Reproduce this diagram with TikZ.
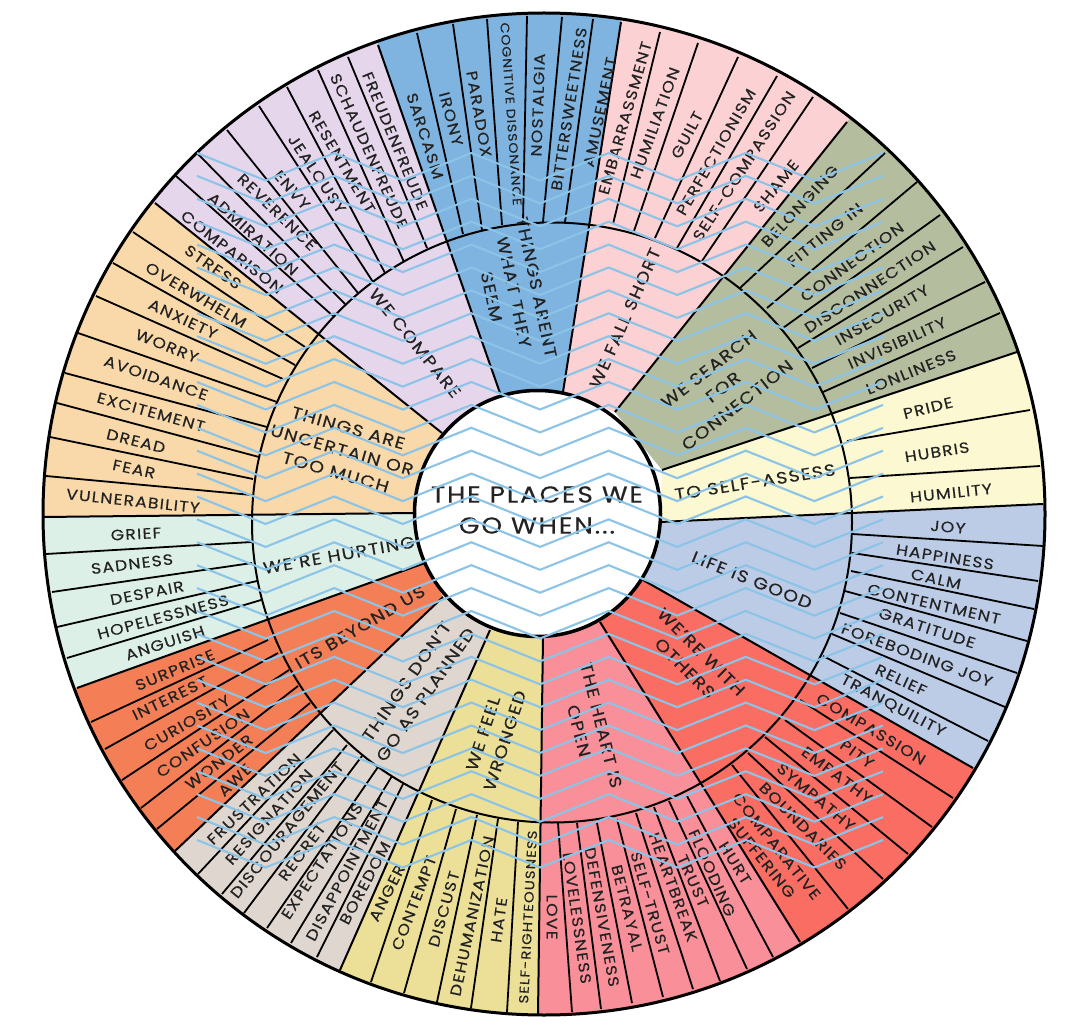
\documentclass[tikz,border=0pt]{standalone}
\usepackage{fontspec}
\setmainfont[FakeStretch=1.15,LetterSpace=8,FakeBold=0.3]{Poppins}
\usetikzlibrary{calc}

\definecolor{lilac}{HTML}{E6D6EC}
\definecolor{skyblue}{HTML}{7FB3E0}
\definecolor{blush}{HTML}{FBD1D4}
\definecolor{sage}{HTML}{B5BD9F}
\definecolor{cream}{HTML}{FBF8D2}
\definecolor{periwinkle}{HTML}{BCCCE6}
\definecolor{coral}{HTML}{F96D62}
\definecolor{rose}{HTML}{F98F98}
\definecolor{sand}{HTML}{ECDF98}
\definecolor{stone}{HTML}{DFD7CF}
\definecolor{tangerine}{HTML}{F47F56}
\definecolor{mint}{HTML}{DDF0E8}
\definecolor{peach}{HTML}{F9D8A9}
\definecolor{chevronblue}{HTML}{8CC4E8}
\definecolor{ink}{HTML}{232323}

\tikzset{
  spoke/.style={draw=black,line width=1.8pt},
  border/.style={draw=black,line width=2pt},
  word/.style={text=ink,inner sep=0pt,font=\fontsize{15}{15}\selectfont},
  place/.style={text=ink,inner sep=0pt,align=center,font=\fontsize{16.5}{23}\selectfont},
  chevron/.style={draw=chevronblue,line width=2.1pt}
}

\newcommand{\chevronrow}[1]{\draw[chevron] (197,#1) -- ++(68.6,27.5) -- ++(68.6,-27.5) -- ++(68.6,27.5) -- ++(68.6,-27.5) -- ++(68.6,27.5) -- ++(68.6,-27.5) -- ++(68.6,27.5) -- ++(68.6,-27.5) -- ++(68.6,27.5) -- ++(68.6,-27.5);}

\begin{document}
\begin{tikzpicture}[x=1pt,y=-1pt]
\useasboundingbox (0,0) rectangle (1080,1027);

\coordinate (b1i) at (500,393); \coordinate (b1o) at (378,45);
\coordinate (b2i) at (563,392); \coordinate (b2o) at (621,22);
\coordinate (b3i) at (615,412); \coordinate (b3o) at (847,122);
\coordinate (b4i) at (662,470); \coordinate (b4o) at (1017,352);
\coordinate (b5i) at (660,522); \coordinate (b5o) at (1043,504);
\coordinate (b6i) at (643,580); \coordinate (b6o) at (973,768);
\coordinate (b7i) at (600,622); \coordinate (b7o) at (800,942);
\coordinate (b8i) at (543,636); \coordinate (b8o) at (538,1015);
\coordinate (b9i) at (490,630); \coordinate (b9o) at (340,970);
\coordinate (b10i) at (443,597); \coordinate (b10o) at (175,851);
\coordinate (b11i) at (425,563); \coordinate (b11o) at (77,688);
\coordinate (b12i) at (415,513); \coordinate (b12o) at (43,517);
\coordinate (b13i) at (442,433); \coordinate (b13o) at (155,203);

% sectors
\begin{scope}
\clip (544,514) circle (501);
\fill[skyblue] (b1i) -- ($(b1i)!1.3!(b1o)$) -- ($(b2i)!1.3!(b2o)$) -- (b2i) -- cycle;
\fill[blush] (b2i) -- ($(b2i)!1.3!(b2o)$) -- ($(b3i)!1.3!(b3o)$) -- (b3i) -- cycle;
\fill[sage] (b3i) -- ($(b3i)!1.3!(b3o)$) -- ($(b4i)!1.3!(b4o)$) -- (b4i) -- cycle;
\fill[cream] (b4i) -- ($(b4i)!1.3!(b4o)$) -- ($(b5i)!1.3!(b5o)$) -- (b5i) -- cycle;
\fill[periwinkle] (b5i) -- ($(b5i)!1.3!(b5o)$) -- ($(b6i)!1.3!(b6o)$) -- (b6i) -- cycle;
\fill[coral] (b6i) -- ($(b6i)!1.3!(b6o)$) -- ($(b7i)!1.3!(b7o)$) -- (b7i) -- cycle;
\fill[rose] (b7i) -- ($(b7i)!1.3!(b7o)$) -- ($(b8i)!1.3!(b8o)$) -- (b8i) -- cycle;
\fill[sand] (b8i) -- ($(b8i)!1.3!(b8o)$) -- ($(b9i)!1.3!(b9o)$) -- (b9i) -- cycle;
\fill[stone] (b9i) -- ($(b9i)!1.3!(b9o)$) -- ($(b10i)!1.3!(b10o)$) -- (b10i) -- cycle;
\fill[tangerine] (b10i) -- ($(b10i)!1.3!(b10o)$) -- ($(b11i)!1.3!(b11o)$) -- (b11i) -- cycle;
\fill[mint] (b11i) -- ($(b11i)!1.3!(b11o)$) -- ($(b12i)!1.3!(b12o)$) -- (b12i) -- cycle;
\fill[peach] (b12i) -- ($(b12i)!1.3!(b12o)$) -- ($(b13i)!1.3!(b13o)$) -- (b13i) -- cycle;
\fill[lilac] (b13i) -- ($(b13i)!1.3!(b13o)$) -- ($(b1i)!1.3!(b1o)$) -- (b1i) -- cycle;
\end{scope}

% spokes of the outer ring
\draw[spoke] (417,33) -- (463,234);
\draw[spoke] (453,24) -- (482,230);
\draw[spoke] (487,19) -- (502,225);
\draw[spoke] (527,16) -- (523,222);
\draw[spoke] (562,17) -- (543,222);
\draw[spoke] (593,19) -- (565,222);
\draw[spoke] (660,32) -- (613,224);
\draw[spoke] (698,43) -- (634,231);
\draw[spoke] (738,57) -- (655,238);
\draw[spoke] (777,76) -- (677,248);
\draw[spoke] (813,97) -- (702,261);
\draw[spoke] (885,153) -- (740,288);
\draw[spoke] (917,182) -- (767,308);
\draw[spoke] (940,215) -- (783,328);
\draw[spoke] (963,247) -- (798,348);
\draw[spoke] (985,282) -- (812,368);
\draw[spoke] (1000,313) -- (823,392);
\draw[spoke] (1030,410) -- (847,441);
\draw[spoke] (1040,466) -- (850,478);
\draw[spoke] (1043,546) -- (852,534);
\draw[spoke] (1038,581) -- (852,553);
\draw[spoke] (1034,609) -- (851,571);
\draw[spoke] (1027,641) -- (845,591);
\draw[spoke] (1017,673) -- (840,613);
\draw[spoke] (1005,707) -- (832,634);
\draw[spoke] (988,741) -- (823,656);
\draw[spoke] (953,798) -- (800,700);
\draw[spoke] (932,827) -- (785,720);
\draw[spoke] (908,854) -- (765,737);
\draw[spoke] (883,879) -- (748,753);
\draw[spoke] (848,909) -- (732,765);
\draw[spoke] (773,957) -- (687,796);
\draw[spoke] (747,969) -- (669,801);
\draw[spoke] (720,981) -- (654,807);
\draw[spoke] (693,989) -- (636,813);
\draw[spoke] (663,997) -- (617,819);
\draw[spoke] (632,1003) -- (597,823);
\draw[spoke] (601,1009) -- (577,823);
\draw[spoke] (572,1012) -- (558,823);
\draw[spoke] (507,1012) -- (518,822);
\draw[spoke] (471,1008) -- (498,819);
\draw[spoke] (437,1002) -- (477,815);
\draw[spoke] (404,993) -- (456,809);
\draw[spoke] (371,982) -- (432,800);
\draw[spoke] (317,957) -- (403,784);
\draw[spoke] (291,943) -- (392,776);
\draw[spoke] (267,928) -- (378,767);
\draw[spoke] (244,913) -- (362,756);
\draw[spoke] (222,894) -- (347,745);
\draw[spoke] (198,874) -- (333,730);
\draw[spoke] (157,829) -- (310,703);
\draw[spoke] (141,808) -- (298,686);
\draw[spoke] (122,780) -- (289,670);
\draw[spoke] (105,749) -- (278,653);
\draw[spoke] (91,722) -- (268,640);
\draw[spoke] (67,658) -- (261,600);
\draw[spoke] (57,627) -- (257,581);
\draw[spoke] (52,592) -- (252,563);
\draw[spoke] (46,554) -- (252,542);
\draw[spoke] (46,476) -- (252,495);
\draw[spoke] (50,437) -- (253,479);
\draw[spoke] (57,403) -- (259,457);
\draw[spoke] (65,373) -- (267,427);
\draw[spoke] (78,333) -- (277,402);
\draw[spoke] (96,296) -- (283,379);
\draw[spoke] (113,263) -- (295,365);
\draw[spoke] (133,232) -- (305,347);
\draw[spoke] (176,176) -- (333,316);
\draw[spoke] (197,153) -- (345,304);
\draw[spoke] (227,130) -- (358,293);
\draw[spoke] (259,106) -- (373,282);
\draw[spoke] (287,87) -- (385,273);
\draw[spoke] (318,70) -- (404,262);
\draw[spoke] (348,57) -- (427,248);

% borders between the groups
\draw[border] (b1i) -- (b1o);
\draw[border] (b2i) -- (b2o);
\draw[border] (b3i) -- (b3o);
\draw[border] (b4i) -- (b4o);
\draw[border] (b5i) -- (b5o);
\draw[border] (b6i) -- (b6o);
\draw[border] (b7i) -- (b7o);
\draw[border] (b8i) -- (b8o);
\draw[border] (b9i) -- (b9o);
\draw[border] (b10i) -- (b10o);
\draw[border] (b11i) -- (b11o);
\draw[border] (b12i) -- (b12o);
\draw[border] (b13i) -- (b13o);

\draw[border] (552,522.5) circle (300);
\draw[draw=black,line width=3pt] (544,514) circle (501);
\draw[draw=black,fill=white,line width=3.5pt] (537.5,513.5) circle (123);

% the outer ring
\node[word,rotate=-72] (sarcasm) at (425,136) {SARCASM};
\node[word,rotate=-75] (irony) at (451,119) {IRONY};
\node[word,rotate=-80] (paradox) at (479,114) {PARADOX};
\node[word,rotate=-86,font=\fontsize{12.2}{12.2}\selectfont] (cognitive) at (511,114) {COGNITIVE DISSONANCE};
\node[word,rotate=88] (nostalgia) at (538,105) {NOSTALGIA};
\node[word,rotate=81] (bittersweetness) at (569,109) {BITTERSWEETNESS};
\node[word,rotate=78] (amusement) at (600,112) {AMUSEMENT};
\node[word,rotate=74] (embarrassment) at (625,118) {EMBARRASSMENT};
\node[word,rotate=70] (humiliation) at (655,123) {HUMILIATION};
\node[word,rotate=62] (guilt) at (687,135) {GUILT};
\node[word,rotate=60] (perfectionism) at (716,152) {PERFECTIONISM};
\node[word,rotate=57] (selfcompassion) at (744,166) {SELF-COMPASSION};
\node[word,rotate=51] (shame) at (776,186) {SHAME};
\node[word,rotate=47] (belonging) at (800,206) {BELONGING};
\node[word,rotate=39] (fittingin) at (825,235) {FITTING IN};
\node[word,rotate=36] (connection) at (852,262) {CONNECTION};
\node[word,rotate=33.5] (disconnection) at (870,287) {DISCONNECTION};
\node[word,rotate=30] (insecurity) at (882,315) {INSECURITY};
\node[word,rotate=24] (invisibility) at (897,343) {INVISIBILITY};
\node[word,rotate=22] (lonliness) at (911,372) {LONLINESS};
\node[word,rotate=14] (pride) at (928,408) {PRIDE};
\node[word,rotate=9] (hubris) at (937,452) {HUBRIS};
\node[word,rotate=6] (humility) at (951,493) {HUMILITY};
\node[word,rotate=-5] (joy) at (948,527) {JOY};
\node[word,rotate=-9] (happiness) at (945,557) {HAPPINESS};
\node[word,rotate=-12] (calm) at (936,579) {CALM};
\node[word,rotate=-13] (contentment) at (934,604) {CONTENTMENT};
\node[word,rotate=-18] (gratitude) at (927,628) {GRATITUDE};
\node[word,rotate=-20] (foreboding) at (917,655) {FOREBODING JOY};
\node[word,rotate=-25] (relief) at (901,680) {RELIEF};
\node[word,rotate=-28] (tranquility) at (893,706) {TRANQUILITY};
\node[word,rotate=-31] (compassion) at (871,729) {COMPASSION};
\node[word,rotate=-36] (pity) at (857,754) {PITY};
\node[word,rotate=-37] (empathy) at (837,775) {EMPATHY};
\node[word,rotate=-40] (sympathy) at (816,797) {SYMPATHY};
\node[word,rotate=-45] (boundaries) at (803,826) {BOUNDARIES};
\node[word,rotate=-51.5,align=center,font=\fontsize{15}{19}\selectfont] (comparative) at (769,852) {COMPARATIVE\\SUFFERING};
\node[word,rotate=-58] (hurt) at (735,863) {HURT};
\node[word,rotate=-66] (flooding) at (712,873) {FLOODING};
\node[word,rotate=-66] (trust) at (693,881) {TRUST};
\node[word,rotate=-70] (heartbreak) at (673,887) {HEARTBREAK};
\node[word,rotate=-74] (selftrust) at (650,903) {SELF-TRUST};
\node[word,rotate=-76] (betrayal) at (627,908) {BETRAYAL};
\node[word,rotate=-80] (defensiveness) at (602,917) {DEFENSIVENESS};
\node[word,rotate=-82] (lovelessness) at (577,918) {LOVELESSNESS};
\node[word,rotate=-90] (love) at (552,917) {LOVE};
\node[word,rotate=87,font=\fontsize{13}{13}\selectfont] (selfrighteousness) at (528,917) {SELF-RIGHTEOUSNESS};
\node[word,rotate=82] (hate) at (499,920) {HATE};
\node[word,rotate=78] (dehumanization) at (472,916) {DEHUMANIZATION};
\node[word,rotate=74] (discust) at (444,909) {DISCUST};
\node[word,rotate=69] (contempt) at (414,903) {CONTEMPT};
\node[word,rotate=63] (anger) at (387,893) {ANGER};
\node[word,rotate=62] (boredom) at (365,883) {BOREDOM};
\node[word,rotate=62] (disappointment) at (347,870) {DISAPPOINTMENT};
\node[word,rotate=56.7] (expectations) at (322,861) {EXPECTATIONS};
\node[word,rotate=53] (recret) at (302,852) {RECRET};
\node[word,rotate=51] (discouragement) at (287,830) {DISCOURAGEMENT};
\node[word,rotate=48] (resignation) at (269,817) {RESIGNATION};
\node[word,rotate=44] (frustration) at (254,799) {FRUSTRATION};
\node[word,rotate=44] (awe) at (235,780) {AWE};
\node[word,rotate=37.5] (wonder) at (219,762) {WONDER};
\node[word,rotate=34.5] (confusion) at (203,743) {CONFUSION};
\node[word,rotate=30] (curiosity) at (187,723) {CURIOSITY};
\node[word,rotate=26] (interest) at (170,698) {INTEREST};
\node[word,rotate=22.6] (surprise) at (175,670) {SURPRISE};
\node[word,rotate=18] (anguish) at (165,643) {ANGUISH};
\node[word,rotate=15] (hopelessness) at (163,617) {HOPELESSNESS};
\node[word,rotate=11] (despair) at (147,593) {DESPAIR};
\node[word,rotate=7] (sadness) at (132,564) {SADNESS};
\node[word,rotate=3] (grief) at (136,534) {GRIEF};
\node[word,rotate=-6] (vulnerability) at (133,501) {VULNERABILITY};
\node[word,rotate=-12] (fear) at (134,469) {FEAR};
\node[word,rotate=-14] (dread) at (136,441) {DREAD};
\node[word,rotate=-15.5] (excitement) at (151,412) {EXCITEMENT};
\node[word,rotate=-19] (avoidance) at (156,378) {AVOIDANCE};
\node[word,rotate=-22] (worry) at (167,346) {WORRY};
\node[word,rotate=-25] (anxiety) at (183,319) {ANXIETY};
\node[word,rotate=-30.5] (overwhelm) at (196,295) {OVERWHELM};
\node[word,rotate=-35] (stress) at (213,267) {STRESS};
\node[word,rotate=-38] (comparison) at (232,252) {COMPARISON};
\node[word,rotate=-42] (admiration) at (253,234) {ADMIRATION};
\node[word,rotate=-44] (reverence) at (277,212) {REVERENCE};
\node[word,rotate=-49] (envy) at (292,190) {ENVY};
\node[word,rotate=-56] (jealousy) at (317,174) {JEALOUSY};
\node[word,rotate=-59.5] (resentment) at (342,162) {RESENTMENT};
\node[word,rotate=-65.7] (schaudenfreude) at (369,151) {SCHAUDENFREUDE};
\node[word,rotate=-67.5] (freudenfreude) at (395,141) {FREUDENFREUDE};

% the middle ring
\node[place,rotate=-78] (arent) at (514,292) {THINGS ARENT\\WHAT THEY\\SEEM};
\node[place,rotate=66] (fallshort) at (625,318) {WE FALL SHORT};
\node[place,rotate=38] (search) at (723,387) {WE SEARCH\\FOR\\CONNECTION};
\node[place,rotate=9] (assess) at (755,482) {TO SELF-ASSESS};
\node[place,rotate=-22] (good) at (752,580) {LIFE IS GOOD};
\node[place,rotate=-45] (others) at (693,660) {WE'RE WITH\\OTHERS};
\node[place,rotate=-76] (open) at (590,728) {THE HEART IS\\OPEN};
\node[place,rotate=72] (wronged) at (494,737) {WE FEEL\\WRONGED};
\node[place,rotate=55] (planned) at (416,688) {THINGS DON'T\\GO AS PLANNED};
\node[place,rotate=30.5] (beyond) at (360,627) {ITS BEYOND US};
\node[place,rotate=10] (hurting) at (339,555) {WE'RE HURTING};
\node[place,rotate=-16] (uncertain) at (342,450) {THINGS ARE\\UNCERTAIN OR\\TOO MUCH};
\node[place,rotate=-51] (compare) at (415,343) {WE COMPARE};

\node[place,font=\fontsize{23}{31}\selectfont] (places) at (537,510) {THE PLACES WE\\GO WHEN...};

% chevrons over everything
\chevronrow{153}
\chevronrow{175.9}
\chevronrow{198.8}
\chevronrow{221.7}
\chevronrow{244.6}
\chevronrow{267.5}
\chevronrow{290.4}
\chevronrow{313.3}
\chevronrow{336.2}
\chevronrow{359.1}
\chevronrow{382}
\chevronrow{404.9}
\chevronrow{427.8}
\chevronrow{450.7}
\chevronrow{473.6}
\chevronrow{496.5}
\chevronrow{519.4}
\chevronrow{542.3}
\chevronrow{565.2}
\chevronrow{588.1}
\chevronrow{611}
\chevronrow{633.9}
\chevronrow{656.8}
\chevronrow{679.7}
\chevronrow{702.6}
\chevronrow{725.5}
\chevronrow{748.4}
\chevronrow{771.3}
\chevronrow{794.2}
\chevronrow{817.1}
\chevronrow{840}
\end{tikzpicture}
\end{document}
